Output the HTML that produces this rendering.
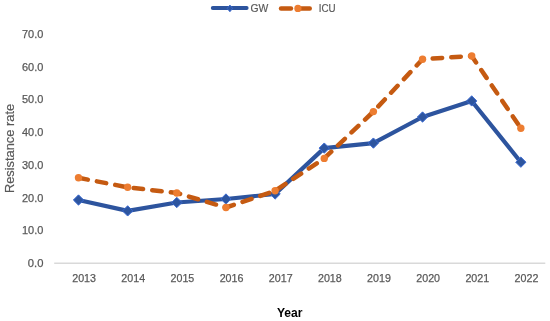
<!DOCTYPE html>
<html><head><meta charset="utf-8"><title>Resistance rate chart</title>
<style>
html,body{margin:0;padding:0;background:#fff;}
body{width:550px;height:321px;overflow:hidden;}
svg{display:block;filter:blur(0.3px);}
text{font-family:"Liberation Sans",Arial,sans-serif;}
.tk{font-size:11.2px;fill:#595959;stroke:#595959;stroke-width:0.25px;}
.lg{font-size:11.7px;fill:#595959;stroke:#595959;stroke-width:0.2px;}
.yt{font-size:13.6px;fill:#595959;stroke:#595959;stroke-width:0.2px;}
.xt{font-size:12.2px;font-weight:bold;fill:#000;}
</style></head>
<body>
<svg width="550" height="321" viewBox="0 0 550 321">
<text x="43.4" y="266.95" text-anchor="end" class="tk" textLength="15.6" lengthAdjust="spacingAndGlyphs">0.0</text>
<text x="43.4" y="234.24" text-anchor="end" class="tk" textLength="21.4" lengthAdjust="spacingAndGlyphs">10.0</text>
<text x="43.4" y="201.53" text-anchor="end" class="tk" textLength="21.4" lengthAdjust="spacingAndGlyphs">20.0</text>
<text x="43.4" y="168.82" text-anchor="end" class="tk" textLength="21.4" lengthAdjust="spacingAndGlyphs">30.0</text>
<text x="43.4" y="136.11" text-anchor="end" class="tk" textLength="21.4" lengthAdjust="spacingAndGlyphs">40.0</text>
<text x="43.4" y="103.40" text-anchor="end" class="tk" textLength="21.4" lengthAdjust="spacingAndGlyphs">50.0</text>
<text x="43.4" y="70.69" text-anchor="end" class="tk" textLength="21.4" lengthAdjust="spacingAndGlyphs">60.0</text>
<text x="43.4" y="37.98" text-anchor="end" class="tk" textLength="21.4" lengthAdjust="spacingAndGlyphs">70.0</text>
<line x1="54.2" y1="263.25" x2="545.3" y2="263.25" stroke="#D9D9D9" stroke-width="1.4"/>
<text x="84.10" y="282.2" text-anchor="middle" class="tk" textLength="23.8" lengthAdjust="spacingAndGlyphs">2013</text>
<text x="133.25" y="282.2" text-anchor="middle" class="tk" textLength="23.8" lengthAdjust="spacingAndGlyphs">2014</text>
<text x="182.40" y="282.2" text-anchor="middle" class="tk" textLength="23.8" lengthAdjust="spacingAndGlyphs">2015</text>
<text x="231.55" y="282.2" text-anchor="middle" class="tk" textLength="23.8" lengthAdjust="spacingAndGlyphs">2016</text>
<text x="280.70" y="282.2" text-anchor="middle" class="tk" textLength="23.8" lengthAdjust="spacingAndGlyphs">2017</text>
<text x="329.85" y="282.2" text-anchor="middle" class="tk" textLength="23.8" lengthAdjust="spacingAndGlyphs">2018</text>
<text x="379.00" y="282.2" text-anchor="middle" class="tk" textLength="23.8" lengthAdjust="spacingAndGlyphs">2019</text>
<text x="428.15" y="282.2" text-anchor="middle" class="tk" textLength="23.8" lengthAdjust="spacingAndGlyphs">2020</text>
<text x="477.30" y="282.2" text-anchor="middle" class="tk" textLength="23.8" lengthAdjust="spacingAndGlyphs">2021</text>
<text x="526.45" y="282.2" text-anchor="middle" class="tk" textLength="23.8" lengthAdjust="spacingAndGlyphs">2022</text>
<polyline points="78.50,200.00 127.65,210.90 176.80,202.50 225.95,199.00 275.10,194.00 324.25,148.10 373.40,143.10 422.55,117.00 471.70,100.95 520.85,162.20" fill="none" stroke="#2D549E" stroke-width="4.2" stroke-linejoin="round" stroke-linecap="round"/>
<path d="M78.50 194.85L83.65 200.00L78.50 205.15L73.35 200.00Z" fill="#2D559F" stroke="#3B6AD2" stroke-width="1"/>
<path d="M127.65 205.75L132.80 210.90L127.65 216.05L122.50 210.90Z" fill="#2D559F" stroke="#3B6AD2" stroke-width="1"/>
<path d="M176.80 197.35L181.95 202.50L176.80 207.65L171.65 202.50Z" fill="#2D559F" stroke="#3B6AD2" stroke-width="1"/>
<path d="M225.95 193.85L231.10 199.00L225.95 204.15L220.80 199.00Z" fill="#2D559F" stroke="#3B6AD2" stroke-width="1"/>
<path d="M275.10 188.85L280.25 194.00L275.10 199.15L269.95 194.00Z" fill="#2D559F" stroke="#3B6AD2" stroke-width="1"/>
<path d="M324.25 142.95L329.40 148.10L324.25 153.25L319.10 148.10Z" fill="#2D559F" stroke="#3B6AD2" stroke-width="1"/>
<path d="M373.40 137.95L378.55 143.10L373.40 148.25L368.25 143.10Z" fill="#2D559F" stroke="#3B6AD2" stroke-width="1"/>
<path d="M422.55 111.85L427.70 117.00L422.55 122.15L417.40 117.00Z" fill="#2D559F" stroke="#3B6AD2" stroke-width="1"/>
<path d="M471.70 95.80L476.85 100.95L471.70 106.10L466.55 100.95Z" fill="#2D559F" stroke="#3B6AD2" stroke-width="1"/>
<path d="M520.85 157.05L526.00 162.20L520.85 167.35L515.70 162.20Z" fill="#2D559F" stroke="#3B6AD2" stroke-width="1"/>
<polyline points="78.50,177.80 127.65,187.30 176.80,193.00 225.95,207.50 275.10,190.80 324.25,158.40 373.40,111.60 422.55,59.20 471.70,56.00 520.85,128.20" fill="none" stroke="#C55A11" stroke-width="4.5" stroke-linejoin="round" stroke-linecap="round" stroke-dasharray="9.5 9.2"/>
<circle cx="78.50" cy="177.80" r="3.7" fill="#ED7D31"/>
<circle cx="127.65" cy="187.30" r="3.7" fill="#ED7D31"/>
<circle cx="176.80" cy="193.00" r="3.7" fill="#ED7D31"/>
<circle cx="225.95" cy="207.50" r="3.7" fill="#ED7D31"/>
<circle cx="275.10" cy="190.80" r="3.7" fill="#ED7D31"/>
<circle cx="324.25" cy="158.40" r="3.7" fill="#ED7D31"/>
<circle cx="373.40" cy="111.60" r="3.7" fill="#ED7D31"/>
<circle cx="422.55" cy="59.20" r="3.7" fill="#ED7D31"/>
<circle cx="471.70" cy="56.00" r="3.7" fill="#ED7D31"/>
<circle cx="520.85" cy="128.20" r="3.7" fill="#ED7D31"/>
<line x1="212.8" y1="8.1" x2="246.6" y2="8.1" stroke="#2D549E" stroke-width="4" stroke-linecap="round"/>
<path d="M229.9 5.0L232.6 8.4L229.9 11.8L227.2 8.4Z" fill="#2D559F" stroke="#3B6AD2" stroke-width="0.9"/>
<text x="250.5" y="12.4" class="lg" textLength="17.8" lengthAdjust="spacingAndGlyphs">GW</text>
<line x1="281" y1="8.45" x2="291" y2="8.45" stroke="#C55A11" stroke-width="4.4" stroke-linecap="round"/>
<line x1="300" y1="8.45" x2="309.8" y2="8.45" stroke="#C55A11" stroke-width="4.4" stroke-linecap="round"/>
<circle cx="297.9" cy="8.4" r="3.6" fill="#ED7D31"/>
<text x="318.7" y="12.4" class="lg" textLength="16.9" lengthAdjust="spacingAndGlyphs">ICU</text>
<text transform="translate(14.3 193.1) rotate(-90)" class="yt" textLength="89.2" lengthAdjust="spacingAndGlyphs">Resistance rate</text>
<text x="276.9" y="316.8" class="xt" textLength="25.6" lengthAdjust="spacingAndGlyphs">Year</text>
</svg>
</body></html>
